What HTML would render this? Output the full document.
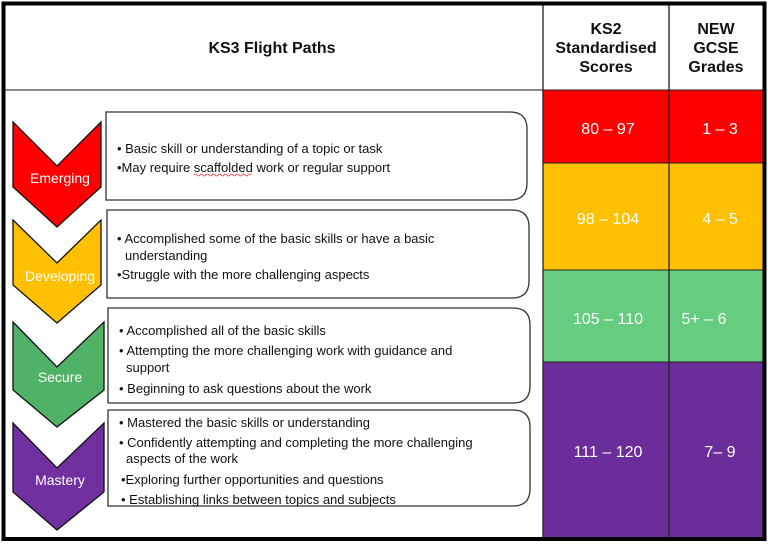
<!DOCTYPE html>
<html><head><meta charset="utf-8"><style>
html,body{margin:0;padding:0;background:#fff;}
svg{display:block;font-family:"Liberation Sans",Arial,sans-serif;}
.b{font-size:13px;fill:#111;}
.c{font-size:14px;fill:#fff;text-anchor:middle;}
.v{font-size:16px;fill:#fff;text-anchor:middle;}
.h{font-size:16px;font-weight:bold;fill:#111;text-anchor:middle;}
</style></head><body>
<svg width="768" height="544" viewBox="0 0 768 544">
<rect x="0" y="0" width="768" height="544" fill="#fff"/>
<line x1="5" y1="90" x2="543" y2="90" stroke="#888" stroke-width="2"/>
<text class="h" x="272" y="53">KS3 Flight Paths</text>
<text class="h" x="606" y="34">KS2</text>
<text class="h" x="606" y="53">Standardised</text>
<text class="h" x="606" y="72">Scores</text>
<text class="h" x="716" y="34">NEW</text>
<text class="h" x="716" y="53">GCSE</text>
<text class="h" x="716" y="72">Grades</text>
<rect x="543" y="90" width="221" height="73" fill="#fe0000"/>
<rect x="543" y="163" width="221" height="107" fill="#fec000"/>
<rect x="543" y="270" width="221" height="92" fill="#66cc7f"/>
<rect x="543" y="362" width="221" height="176" fill="#6b2d9a"/>
<line x1="543" y1="90" x2="764" y2="90" stroke="#222" stroke-width="1"/>
<line x1="543" y1="163" x2="764" y2="163" stroke="#222" stroke-width="1"/>
<line x1="543" y1="270" x2="764" y2="270" stroke="#222" stroke-width="1"/>
<line x1="543" y1="362" x2="764" y2="362" stroke="#222" stroke-width="1"/>
<line x1="543" y1="4" x2="543" y2="538" stroke="#222" stroke-width="1.3"/>
<line x1="669" y1="4" x2="669" y2="538" stroke="#222" stroke-width="1.3"/>
<text class="v" x="608" y="134">80 – 97</text>
<text class="v" x="720" y="134">1 – 3</text>
<text class="v" x="608" y="224">98 – 104</text>
<text class="v" x="720" y="224">4 – 5</text>
<text class="v" x="608" y="324">105 – 110</text>
<text class="v" x="704" y="324">5+ – 6</text>
<text class="v" x="608" y="457">111 – 120</text>
<text class="v" x="720" y="457">7– 9</text>
<g stroke="#111" stroke-width="1.3">
<polygon points="13,122 57,166 101,122 101,187 57,227 13,187" fill="#fe0000"/>
<polygon points="13,220 57,263 101,220 101,285 57,323 13,285" fill="#fec000"/>
<polygon points="13,322 57,367 104,322 104,390 57,427 13,390" fill="#4fb266"/>
<polygon points="13,423 57,468 104,423 104,492 57,530 13,492" fill="#7030a0"/>
</g>
<text class="c" x="60" y="183">Emerging</text>
<text class="c" x="60" y="281">Developing</text>
<text class="c" x="60" y="382">Secure</text>
<text class="c" x="60" y="485">Mastery</text>
<g fill="#fff" stroke="#333" stroke-width="1.3">
<path d="M106,112 H510 Q527,112 527,129 V183 Q527,200 510,200 H106 Z"/>
<path d="M107,210 H512 Q529,210 529,227 V281 Q529,298 512,298 H107 Z"/>
<path d="M108,308 H513 Q530,308 530,325 V386 Q530,403 513,403 H108 Z"/>
<path d="M108,410 H513 Q530,410 530,427 V489 Q530,506 513,506 H108 Z"/>
</g>
<text class="b" x="117" y="153">• Basic skill or understanding of a topic or task</text>
<text class="b" x="117" y="172">•May require scaffolded work or regular support</text>
<path d="M194,175 q1.5,-2 3,0 t3,0 t3,0 t3,0 t3,0 t3,0 t3,0 t3,0 t3,0 t3,0 t3,0 t3,0 t3,0 t3,0 t3,0 t3,0 t3,0 t3,0 t3,0" fill="none" stroke="#e33" stroke-width="0.8"/>
<text class="b" x="117" y="243">• Accomplished some of the basic skills or have a basic</text>
<text class="b" x="125" y="260">understanding</text>
<text class="b" x="117" y="279">•Struggle with the more challenging aspects</text>
<text class="b" x="119" y="335">• Accomplished all of the basic skills</text>
<text class="b" x="119" y="355">• Attempting the more challenging work with guidance and</text>
<text class="b" x="126" y="372">support</text>
<text class="b" x="119" y="393">• Beginning to ask questions about the work</text>
<text class="b" x="119" y="427">• Mastered the basic skills or understanding</text>
<text class="b" x="119" y="447">• Confidently attempting and completing the more challenging</text>
<text class="b" x="126" y="463">aspects of the work</text>
<text class="b" x="121" y="484">•Exploring further opportunities and questions</text>
<text class="b" x="121" y="504">• Establishing links between topics and subjects</text>
<rect x="3.5" y="3.5" width="761" height="535.5" fill="none" stroke="#000" stroke-width="4"/>
</svg>
</body></html>
